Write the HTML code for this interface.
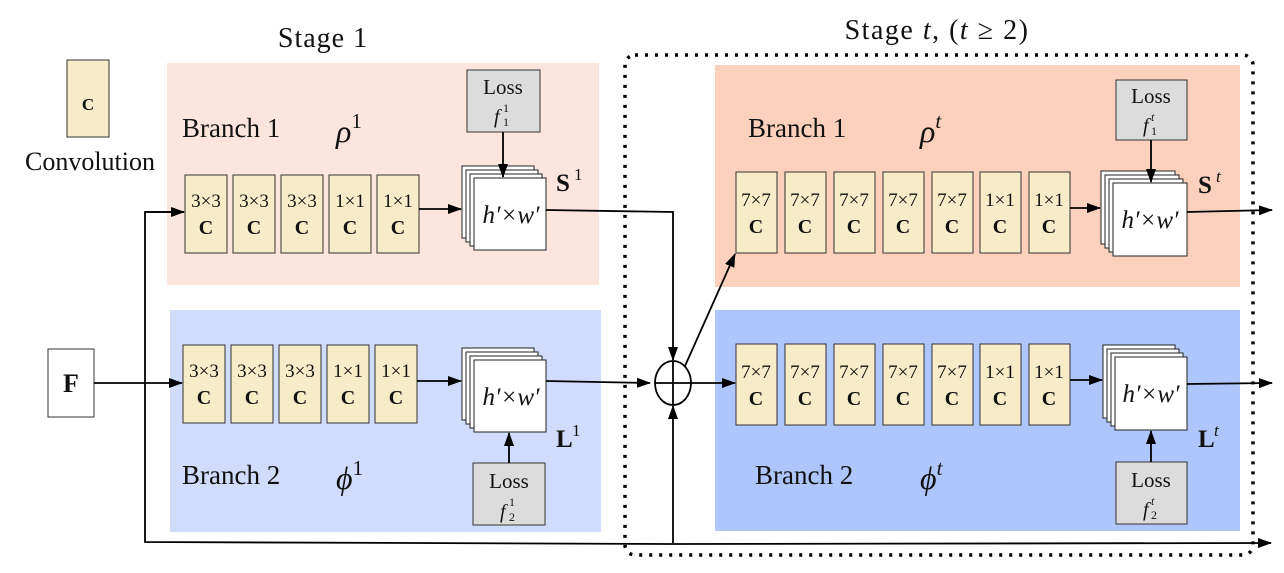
<!DOCTYPE html>
<html><head><meta charset="utf-8"><style>body{margin:0;background:#fff}svg{display:block}text{font-family:"Liberation Serif",serif;fill:#111}</style></head><body>
<svg width="1284" height="573" viewBox="0 0 1284 573" xmlns="http://www.w3.org/2000/svg">
<defs><marker id="b" markerWidth="14" markerHeight="10" refX="13" refY="5" orient="auto" markerUnits="userSpaceOnUse"><path d="M0,0 L14,5 L0,10 z" fill="#000"/></marker></defs>
<rect x="167" y="63" width="432" height="222" fill="#fce5dc"/>
<rect x="170" y="310" width="431" height="222" fill="#cfdcfb"/>
<rect x="715" y="65" width="525" height="222" fill="#fbd0bc"/>
<rect x="715" y="310" width="525" height="221" fill="#aec6fb"/>
<rect x="625" y="55" width="628" height="500" rx="10" fill="none" stroke="#000" stroke-width="3.5" stroke-dasharray="3,7"/>
<text x="323" y="47" font-size="28" letter-spacing="1" text-anchor="middle">Stage 1</text>
<text x="937" y="39" font-size="28" letter-spacing="1.5" text-anchor="middle">Stage <tspan font-style="italic">t</tspan>, (<tspan font-style="italic">t</tspan> ≥ 2)</text>
<rect x="67" y="60" width="42" height="77" fill="#f8ebc8" stroke="#333"/>
<text x="88" y="110" font-size="17" font-weight="bold" text-anchor="middle">C</text>
<text x="90" y="170" font-size="26" text-anchor="middle">Convolution</text>
<rect x="48" y="349" width="46" height="68" fill="#fff" stroke="#333"/>
<text x="71" y="392" font-size="26" font-weight="bold" text-anchor="middle">F</text>
<text x="182" y="137" font-size="27">Branch 1</text><text x="336" y="142" font-size="32" font-style="italic">ρ<tspan font-size="21" dy="-14" font-style="normal">1</tspan></text>
<text x="182" y="484" font-size="27">Branch 2</text><text x="336" y="489" font-size="32" font-style="italic">ϕ<tspan font-size="21" dy="-14" font-style="normal">1</tspan></text>
<text x="748" y="137" font-size="27">Branch 1</text><text x="920" y="142" font-size="32" font-style="italic">ρ<tspan font-size="21" dy="-14">t</tspan></text>
<text x="755" y="484" font-size="27">Branch 2</text><text x="920" y="489" font-size="32" font-style="italic">ϕ<tspan font-size="21" dy="-14">t</tspan></text>
<g fill="#f8ebc8" stroke="#333">
<rect x="185" y="175" width="42" height="78"/><rect x="233" y="175" width="42" height="78"/><rect x="281" y="175" width="42" height="78"/><rect x="329" y="175" width="42" height="78"/><rect x="377" y="175" width="42" height="78"/>
<rect x="183" y="345" width="42" height="78"/><rect x="231" y="345" width="42" height="78"/><rect x="279" y="345" width="42" height="78"/><rect x="327" y="345" width="42" height="78"/><rect x="375" y="345" width="42" height="78"/>
<rect x="736" y="172" width="41" height="81"/><rect x="785" y="172" width="41" height="81"/><rect x="834" y="172" width="41" height="81"/><rect x="883" y="172" width="41" height="81"/><rect x="932" y="172" width="41" height="81"/><rect x="980" y="172" width="41" height="81"/><rect x="1029" y="172" width="41" height="81"/>
<rect x="736" y="344" width="41" height="81"/><rect x="785" y="344" width="41" height="81"/><rect x="834" y="344" width="41" height="81"/><rect x="883" y="344" width="41" height="81"/><rect x="932" y="344" width="41" height="81"/><rect x="980" y="344" width="41" height="81"/><rect x="1029" y="344" width="41" height="81"/>
</g>
<g font-size="19" text-anchor="middle">
<text x="206" y="207">3×3</text><text x="254" y="207">3×3</text><text x="302" y="207">3×3</text><text x="350" y="207">1×1</text><text x="398" y="207">1×1</text>
<text x="204" y="377">3×3</text><text x="252" y="377">3×3</text><text x="300" y="377">3×3</text><text x="348" y="377">1×1</text><text x="396" y="377">1×1</text>
<text x="756" y="206">7×7</text><text x="805" y="206">7×7</text><text x="854" y="206">7×7</text><text x="903" y="206">7×7</text><text x="952" y="206">7×7</text><text x="1000" y="206">1×1</text><text x="1049" y="206">1×1</text>
<text x="756" y="378">7×7</text><text x="805" y="378">7×7</text><text x="854" y="378">7×7</text><text x="903" y="378">7×7</text><text x="952" y="378">7×7</text><text x="1000" y="378">1×1</text><text x="1049" y="378">1×1</text>
</g>
<g font-weight="bold" font-size="20" text-anchor="middle">
<text x="206" y="234">C</text><text x="254" y="234">C</text><text x="302" y="234">C</text><text x="350" y="234">C</text><text x="398" y="234">C</text>
<text x="204" y="404">C</text><text x="252" y="404">C</text><text x="300" y="404">C</text><text x="348" y="404">C</text><text x="396" y="404">C</text>
<text x="756" y="233">C</text><text x="805" y="233">C</text><text x="854" y="233">C</text><text x="903" y="233">C</text><text x="952" y="233">C</text><text x="1000" y="233">C</text><text x="1049" y="233">C</text>
<text x="756" y="405">C</text><text x="805" y="405">C</text><text x="854" y="405">C</text><text x="903" y="405">C</text><text x="952" y="405">C</text><text x="1000" y="405">C</text><text x="1049" y="405">C</text>
</g>
<g fill="#fff" stroke="#222">
<rect x="462" y="166" width="72" height="72"/><rect x="466" y="170" width="72" height="72"/><rect x="470" y="174" width="72" height="72"/><rect x="474" y="178" width="72" height="72"/>
<rect x="462" y="348" width="72" height="72"/><rect x="466" y="352" width="72" height="72"/><rect x="470" y="356" width="72" height="72"/><rect x="474" y="360" width="72" height="72"/>
<rect x="1101" y="171" width="74" height="73"/><rect x="1105" y="175" width="74" height="73"/><rect x="1109" y="179" width="74" height="73"/><rect x="1113" y="183" width="74" height="73"/>
<rect x="1103" y="345" width="72" height="73"/><rect x="1107" y="349" width="72" height="73"/><rect x="1111" y="353" width="72" height="73"/><rect x="1115" y="357" width="72" height="73"/>
</g>
<g font-size="25" font-style="italic" text-anchor="middle">
<text x="511" y="223">h′×w′</text><text x="511" y="405">h′×w′</text><text x="1150" y="228">h′×w′</text><text x="1151" y="402">h′×w′</text></g>
<g font-size="25" font-weight="bold">
<text x="556" y="191">S</text><text x="574" y="180" font-size="17" font-weight="normal">1</text>
<text x="556" y="447">L</text><text x="572" y="436" font-size="17" font-weight="normal">1</text>
<text x="1198" y="193">S</text><text x="1216" y="182" font-size="17" font-weight="normal" font-style="italic">t</text>
<text x="1198" y="447">L</text><text x="1214" y="436" font-size="17" font-weight="normal" font-style="italic">t</text></g>
<g fill="#dcdcdc" stroke="#333">
<rect x="467" y="70" width="73" height="62"/><rect x="473" y="463" width="72" height="62"/>
<rect x="1116" y="80" width="71" height="60"/><rect x="1116" y="462" width="71" height="62"/></g>
<g font-size="21" text-anchor="middle">
<text x="503" y="94">Loss</text><text x="509" y="488">Loss</text><text x="1151" y="103">Loss</text><text x="1151" y="487">Loss</text></g>
<g font-size="20" font-style="italic">
<text x="494" y="123">f</text><text x="500" y="518">f</text><text x="1143" y="132">f</text><text x="1143" y="516">f</text></g>
<g font-size="12">
<text x="503" y="112">1</text><text x="503" y="126">1</text>
<text x="509" y="506">1</text><text x="509" y="521">2</text>
<text x="1151" y="121" font-style="italic">t</text><text x="1151" y="135">1</text>
<text x="1151" y="505" font-style="italic">t</text><text x="1151" y="519">2</text></g>
<g stroke="#000" stroke-width="1.8" fill="none">
<line x1="94" y1="383" x2="182" y2="383" marker-end="url(#b)"/>
<polyline points="184,212 145,212 145,542 673,544 1271,543" marker-end="url(#b)"/>
<line x1="145" y1="212" x2="184" y2="212" marker-end="url(#b)"/>
<line x1="419" y1="209" x2="461" y2="209" marker-end="url(#b)"/>
<line x1="417" y1="381" x2="461" y2="381" marker-end="url(#b)"/>
<line x1="503" y1="132" x2="503" y2="177" marker-end="url(#b)"/>
<line x1="509" y1="463" x2="509" y2="433" marker-end="url(#b)"/>
<polyline points="546,210 673,212 673,360" marker-end="url(#b)"/>
<line x1="546" y1="381" x2="650" y2="383" marker-end="url(#b)"/>
<line x1="673" y1="543" x2="673" y2="406" marker-end="url(#b)"/>
<ellipse cx="673" cy="383" rx="18" ry="22"/>
<line x1="655" y1="383" x2="691" y2="383"/><line x1="673" y1="361" x2="673" y2="405"/>
<line x1="685" y1="366" x2="735" y2="254" marker-end="url(#b)"/>
<line x1="691" y1="383" x2="735" y2="383" marker-end="url(#b)"/>
<line x1="1070" y1="208" x2="1100" y2="208" marker-end="url(#b)"/>
<line x1="1070" y1="380" x2="1102" y2="380" marker-end="url(#b)"/>
<line x1="1151" y1="140" x2="1151" y2="182" marker-end="url(#b)"/>
<line x1="1151" y1="462" x2="1151" y2="431" marker-end="url(#b)"/>
<line x1="1187" y1="212" x2="1272" y2="210" marker-end="url(#b)"/>
<line x1="1187" y1="384" x2="1272" y2="383" marker-end="url(#b)"/>
</g>
</svg>
</body></html>
